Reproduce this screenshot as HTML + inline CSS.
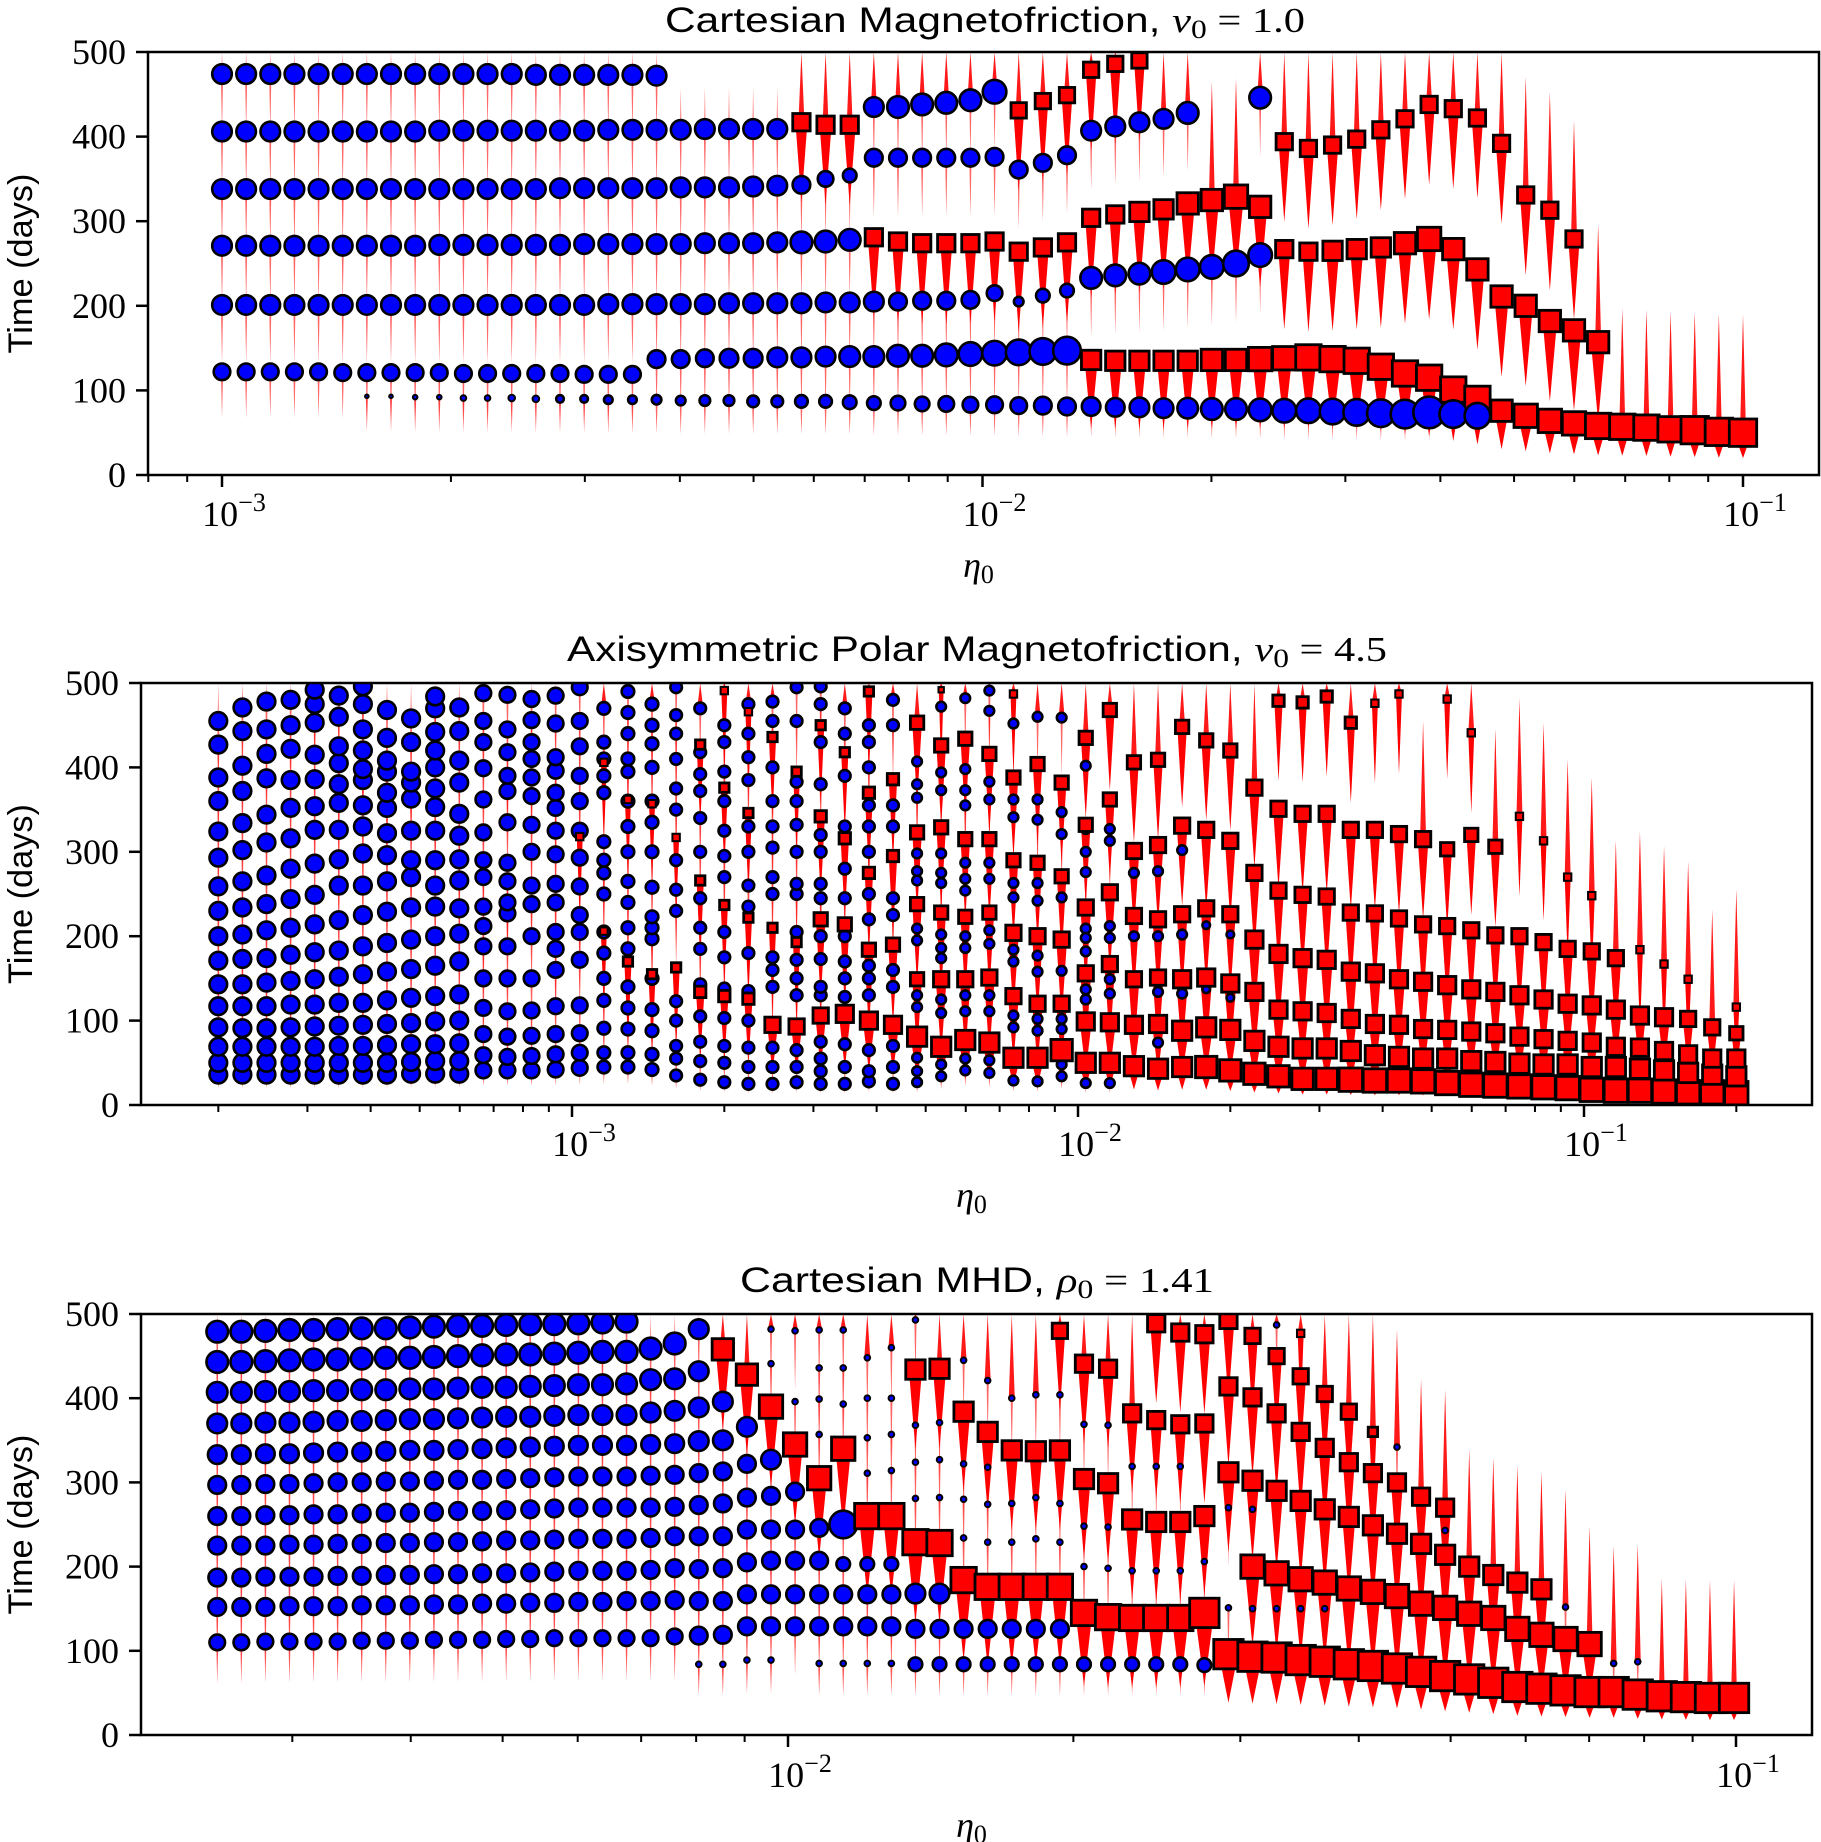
<!DOCTYPE html>
<html><head><meta charset="utf-8"><style>
html,body{margin:0;padding:0;background:#fff}
svg{display:block}
text{fill:#000}
</style></head><body>
<svg id="chart" width="1821" height="1842" viewBox="0 0 1821 1842" xmlns="http://www.w3.org/2000/svg">
</svg>
<script>
// ---------- DATA ----------
const p1Tracks = [
 {k:'b',c:0,t:[474,474,474,474,474,474,474,474,474,474,474,474,474,473,473,473,473,473,472],s:11},
 {k:'b',c:0,t:[406,406,406,406,406,406,406,406,406,407,407,407,407,407,407,407,408,408,408,408,409,409,409,409],s:11},
 {k:'r',c:24,t:[417,414,414],s:10},
 {k:'b',c:27,t:[435,435,438,440,443,453],s:[11,12,12,12,12,13]},
 {k:'r',c:33,t:[431,442,449,479,486,490],s:9},
 {k:'b',c:36,t:[407,412,417,421,428],s:[11,11,11,11,12]},
 {k:'b',c:43,t:[446],s:12},
 {k:'r',c:44,t:[394,386,390,397,408,421,438,433,422,392,331,313,279],s:9.5},
 {k:'b',c:0,t:[338,338,338,338,338,338,338,338,338,338,338,338,338,338,339,339,339,339,339,340,340,340,341,342,343,350,354],s:[11,11,11,11,11,11,11,11,11,11,11,11,11,11,11,11,11,11,11,11,11,11,11,11,10,9,8]},
 {k:'b',c:27,t:[375,375,375,375,375,376,361,369,378],s:10},
 {k:'b',c:0,t:[271,271,271,271,271,271,271,271,271,272,272,272,272,272,272,273,273,273,273,273,274,274,274,275,275,276,278],s:[11,11,11,11,11,11,11,11,11,11,11,11,11,11,11,11,11,11,11,11,11,11,11,11,12,12,12]},
 {k:'r',c:27,t:[281,276,274,274,274,276,264,269,275],s:10},
 {k:'r',c:36,t:[304,308,311,314,321,325,329,317],s:[10,10,11,11,12,12,13,12]},
 {k:'b',c:36,t:[233,236,238,240,243,246,250,260],s:[12,12,12,13,13,13,14,13]},
 {k:'r',c:44,t:[267,264,265,267,269,274,279,267,243,211,200,182,171,157],s:[10,10,11,11,11,12,13,12,12,12,12,12,12,12]},
 {k:'b',c:0,t:[201,201,201,201,201,201,201,201,201,201,201,201,201,201,201,201,202,202,202,202,202,203,203,203,203,204,204,205,205,206,206,207,215,205,212,218],s:[11,11,11,11,11,11,11,11,11,11,11,11,11,11,11,11,11,11,11,11,11,11,11,11,11,11,11,11,10,10,10,10,9,6,8,8]},
 {k:'b',c:0,t:[122,122,122,122,122,121,121,121,121,121,120,120,120,120,120,119,119,119],s:9.5},
 {k:'b',c:18,t:[137,137,138,138,138,139,139,140,140,140,141,141,142,143,144,145,146,147],s:[10,10,10,10.5,10.5,11,11,11,11.5,11.5,12,12,12.5,13,13.5,14,14.5,15]},
 {k:'r',c:36,t:[136,135,135,135,135,136,136,137,138,139,137,135,128,120,115,101,90],s:[11,11,11,11,11,12,12,13,13,14,14,14,14,14,14,14,14]},
 {k:'b',c:6,t:[93,93,92,92,91,91,91,90,90,90,89,89,89,88,88,88,87,87,87,87],s:[3,3,3.5,3.5,4,4,4.5,4.5,5,5,5.5,5.5,6,6,6.5,6.5,7,7,7.5,7.5]},
 {k:'b',c:26,t:[86,85,85,84,84,83,83,82,82,81,81,80,80,79,79,78,78,77,76,76,75,74,73,72,74,72,70],s:[8,8,8.5,8.5,9,9,9.5,9.5,10,10,10.5,10.5,11,11,11.5,12,12,12.5,13,13.5,14,14.5,15,15.5,17,15,14]},
 {k:'r',c:53,t:[76,70,64,61,58,57,56,54,53,51,50],s:[12,13,13,13,14,14,14,14,15,15,15]}
];

const p2Blue = [
 [36,50,69,92,117,143,171,200,230,259,293,324,360,388,427,455],
 [36,50,69,91,117,143,173,202,234,265,302,334,372,402,443,471],
 [36,50,69,91,117,145,174,207,238,272,311,344,387,416,445,478],
 [36,50,69,92,119,147,178,210,244,280,316,352,385,422,450,480],
 [36,50,69,93,119,149,181,214,249,286,326,354,386,415,453,475,492],
 [36,50,70,94,121,152,183,219,260,291,326,358,380,405,425,460,485],
 [36,50,70,95,121,155,188,225,260,298,330,355,385,398,420,445,475,496],
 [36,50,71,96,124,158,192,229,265,296,322,352,370,395,408,435,468],
 [37,51,72,97,127,161,196,234,270,290,325,363,382,395,430,458],
 [37,52,72,99,129,165,200,235,260,290,325,353,375,400,420,442,470,484],
 [37,52,73,100,131,170,203,233,266,291,319,345,382,408,443,471],
 [41,59,84,115,150,188,212,235,270,290,323,362,399,430,455,488],
 [41,57,81,111,150,188,227,240,265,287,335,372,390,418,445,486],
 [41,58,82,112,150,200,238,260,300,332,366,388,410,430,456,481],
 [42,60,84,117,160,185,205,240,262,297,325,352,370,396,412,452,485],
 [44,62,85,118,172,205,225,259,293,325,360,390,425,455,495],
 [45,62,91,124,150,180,205,250,275,290,312,370,390,410,430,470],
 [45,62,90,115,140,185,210,240,265,300,330,360,395,410,440,465,490],
 [42,60,88,113,150,197,210,223,258,300,335,360,400,428,450,475],
 [35,55,70,100,123,230,255,290,350,375,410,440,462,495],
 [30,52,75,105,143,185,210,245,300,340,372,392,418,470],
 [27,50,70,103,138,175,205,270,295,325,360,395,430,450],
 [25,45,68,100,135,180,235,260,300,330,385,412,440,475],
 [25,45,68,140,160,175,250,270,305,330,360,400,455,478],
 [27,45,65,130,150,172,205,250,262,300,332,360,383,455,495],
 [25,40,55,75,130,140,173,200,245,262,300,320,380,430,475,496],
 [25,45,72,128,150,170,200,245,280,330,390,440,470],
 [28,40,65,130,150,165,220,250,300,330,355,400,430,450],
 [25,45,70,140,160,225,245,330,355,450,480],
 [56,40,27,130,116,298,277,266,209,195,407,380,364],
 [48,34,125,109,202,186,174,298,275,263,394,373,472],
 [55,41,130,111,200,186,287,268,254,398,373,355,482],
 [53,38,130,111,207,191,287,268,383,362,491,467],
 [29,106,92,184,170,263,246,362,341,452],
 [28,102,88,177,158,263,242,362,338,460],
 [48,34,102,90,159,246,347,321,459],
 [26,137,125,209,198,182,276,300,327,402],
 [26,149,132,198,212,327,313],
 [200,275],
 [74,134,200,277],
 [132,202,302],
 [137,213],
 [202,127]
];
const p2BlueR = [10,10,10,10,10,10,10,10,10,10,10,9,9,9,9,9,7.5,7.5,7.5,7,7,7,7,7,7,7,7,7,7,6,6,6,6,6,6,6,6,6,6,6,6,5,5];
const p2Red = [
 [],[],[],[],[],[],[],[],[],[],[],[],[],[],[],
 [[318,5]],[[206,5],[406,5]],[[170,6],[362,5]],[[155,6],[357,5]],[[163,6],[317,5]],
 [[134,7],[266,6],[427,6]],[[129,7],[237,6],[376,6],[491,5]],[[126,7],[222,6],[346,6],[466,5]],
 [[95,9],[210,6],[436,6]],[[93,9],[193,6],[395,6]],[[106,9],[220,8],[342,7],[450,6]],
 [[108,10],[214,8],[316,7],[418,6]],[[100,10],[184,8],[275,7],[370,7],[490,6]],[[95,10],[190,8],[295,7],[386,7]],
 [[81,11],[149,8],[238,8],[323,8],[453,8]],
 [[69,11],[149,9],[228,8],[329,8],[426,8],[492,4]],
 [[77,11],[149,9],[223,8],[315,8],[434,8]],
 [[74,11],[151,9],[228,8],[315,8],[416,8]],
 [[56,11],[129,9],[204,9],[290,8],[388,8],[487,5]],
 [[56,11],[120,9],[200,9],[287,8],[404,8]],
 [[65,12],[120,9],[196,9],[271,8],[382,8]],
 [[50,11],[99,10],[156,9],[234,9],[332,8],[435,8]],
 [[50,11],[98,10],[167,9],[252,9],[362,8],[468,8]],
 [[46,11],[95,10],[149,9],[224,9],[301,9],[406,8]],
 [[43,11],[96,10],[151,9],[220,9],[308,9],[409,8]],
 [[45,11],[88,11],[149,10],[226,9],[331,9],[448,8]],
 [[45,12],[92,11],[151,10],[233,9],[326,9],[432,8]],
 [[41,12],[89,11],[144,10],[226,9],[313,9],[420,8]],
 [[37,12],[76,11],[134,10],[196,10],[275,9],[376,9]],
 [[34,12],[69,11],[113,10],[179,10],[254,9],[351,9],[479,7]],
 [[31,12],[67,11],[111,10],[174,10],[249,9],[345,9],[477,7]],
 [[31,12],[67,11],[109,10],[172,10],[247,9],[345,9],[484,7]],
 [[30,13],[64,11],[102,10],[158,10],[228,9],[326,9],[453,7]],
 [[29,13],[59,11],[96,10],[156,10],[227,9],[326,9],[476,5]],
 [[29,13],[57,11],[95,10],[149,10],[221,9],[321,9],[487,5]],
 [[28,13],[55,11],[90,10],[146,10],[214,9],[315,9]],
 [[26,13],[55,11],[89,10],[142,10],[212,9],[303,8],[481,5]],
 [[24,13],[52,11],[87,10],[137,10],[207,9],[320,8],[441,5]],
 [[23,13],[51,11],[85,10],[134,10],[201,9],[306,8]],
 [[22,13],[49,11],[81,10],[130,10],[200,9],[342,5]],
 [[21,13],[48,11],[78,10],[125,10],[193,9],[313,5]],
 [[20,13],[48,11],[76,10],[120,10],[185,9],[270,5]],
 [[18,13],[45,11],[74,10],[118,10],[182,9],[248,5]],
 [[17,13],[45,11],[69,10],[113,10],[174,9]],
 [[17,13],[43,11],[68,10],[106,10],[184,5]],
 [[16,13],[41,11],[64,10],[104,10],[167,5]],
 [[15,13],[38,11],[60,10],[102,9],[149,5]],
 [[15,13],[36,11],[55,10],[92,9]],
 [[14,13],[34,11],[55,10],[85,8],[116,5]]
];

const p3Tracks = [
 {k:'b',c:0,t:[110,110,111,111,111,111,112,112,112,113,113,113,114,114,115,115,115,115,115,117],s:9},
 {k:'b',c:0,t:[152,152,152,153,153,153,154,154,154,155,155,156,156,157,157,158,158,159,159,160],s:10},
 {k:'b',c:0,t:[187,187,188,188,188,189,189,190,190,191,191,192,192,193,194,195,195,195,196,198],s:10},
 {k:'b',c:0,t:[225,225,225,226,226,227,227,228,228,229,229,230,231,231,232,233,233,233,234,236],s:10},
 {k:'b',c:0,t:[260,260,261,261,262,262,263,264,264,265,266,266,267,268,269,270,270,270,270,271],s:10},
 {k:'b',c:0,t:[297,297,298,298,299,300,300,301,301,302,303,303,304,305,306,307,307,307,308,309],s:10},
 {k:'b',c:0,t:[333,333,334,334,335,336,336,337,338,338,339,340,341,342,343,344,344,344,345,346],s:10.5},
 {k:'b',c:0,t:[370,370,371,371,372,373,373,374,375,375,376,377,378,378,379,380,380,380,383,385],s:11},
 {k:'b',c:0,t:[407,407,408,408,409,409,410,410,411,411,412,413,413,414,415,416,416,417,422,423],s:11.5},
 {k:'b',c:0,t:[443,443,444,445,446,446,447,448,448,449,450,451,452,452,453,454,455,455,459,465],s:12},
 {k:'b',c:0,t:[479,479,480,481,481,482,483,483,484,485,486,486,487,488,488,489,490,491],s:12}
];
const p3BlueCols = {
 20:[[118,10],[159,10],[197,10],[236,10],[273,10],[311,10],[349,11],[389,11],[432,11],[482,11],[84,4]],
 21:[[119,10],[159,10],[198,10],[236,10],[275,10],[313,10],[350,11],[396,11],[84,4]],
 22:[[129,10],[167,10],[205,10],[244,10],[282,10],[322,10],[366,11],[89,4]],
 23:[[129,10],[167,10],[207,10],[244,10],[284,10],[327,11],[89,4],[441,4],[482,4]],
 24:[[129,10],[167,10],[207,10],[244,10],[289,10],[396,4],[480,4]],
 25:[[129,10],[167,10],[207,10],[246,10],[85,4],[357,4],[399,4],[436,4],[481,4]],
 26:[[129,10],[167,10],[203,8],[250,15],[85,4],[393,4],[436,4],[481,4]],
 27:[[129,10],[167,10],[203,8],[85,4],[311,4],[353,4],[400,4],[448,4]],
 28:[[129,10],[167,10],[203,8],[85,4],[314,4],[357,4],[400,4],[460,4]],
 29:[[168,11],[126,10],[84,8],[324,4],[281,4],[368,4],[493,4]],
 30:[[168,11],[126,10],[84,8],[327,4],[282,4],[371,4]],
 31:[[126,10],[84,8],[234,4],[280,4],[322,4],[445,4]],
 32:[[126,10],[84,8],[229,4],[274,4],[318,4],[421,4]],
 33:[[126,10],[84,8],[229,4],[275,4],[400,4]],
 34:[[126,10],[84,8],[233,4],[282,4],[404,4]],
 35:[[126,10],[84,8],[229,4],[275,4],[404,4]],
 36:[[84,8],[200,4],[248,4],[369,4]],
 37:[[84,8],[198,4],[247,4],[368,4]],
 38:[[84,8],[195,4],[319,4]],
 39:[[84,8],[195,4],[319,4]],
 40:[[84,8],[195,4],[319,4]],
 41:[[83,8],[206,4]],
 42:[[151,4],[270,4]],
 43:[[150,4],[268,4]],
 44:[[150,4],[487,4]],
 45:[[150,4]],46:[[150,4]],49:[[342,4]],51:[[243,4]],56:[[152,4]],58:[[85,4]],59:[[87,4]]
};
const p3RedCols = {
 21:[[458,12]],22:[[428,12]],23:[[390,13]],24:[[345,13]],25:[[305,13]],26:[[340,13]],27:[[260,14]],28:[[260,14]],
 29:[[434,11],[229,14]],30:[[435,11],[228,14]],31:[[384,11],[184,14]],32:[[360,11],[176,14]],
 33:[[338,11],[176,14]],34:[[337,11],[176,14]],35:[[480,9],[338,11],[176,14]],
 36:[[441,10],[304,11],[145,14]],37:[[435,10],[299,11],[140,14]],38:[[382,10],[256,11],[139,14]],
 39:[[489,10],[374,10],[253,11],[139,14]],40:[[478,10],[369,10],[253,11],[139,14]],
 41:[[476,10],[370,10],[260,11],[145,16]],42:[[493,10],[414,10],[312,11],[96,16]],
 43:[[474,9],[401,10],[302,11],[200,13],[93,16]],44:[[450,9],[382,10],[290,11],[192,13],[92,16]],
 45:[[477,5],[426,9],[360,10],[278,11],[185,13],[89,16]],46:[[405,9],[341,10],[268,11],[181,13],[87,16]],
 47:[[384,9],[324,10],[259,11],[174,13],[84,16]],48:[[360,6],[311,10],[249,11],[170,13],[82,16]],
 49:[[300,10],[239,11],[165,13],[79,16]],50:[[283,10],[227,11],[156,13],[75,16]],
 51:[[270,10],[214,11],[151,13],[70,16]],52:[[200,11],[144,13],[66,16]],53:[[190,11],[139,13],[62,16]],
 54:[[181,11],[126,13],[57,16]],55:[[173,11],[119,13],[55,16]],56:[[114,13],[53,16]],57:[[108,13],[51,16]],
 58:[[51,16]],59:[[48,16]],60:[[46,16]],61:[[45,16]],62:[[44,16]],63:[[44,16]]
};
const yTickLabels = ['0','100','200','300','400','500'];
const xMajorExps = [-3,-2,-1];

// ---------- RENDER ----------
const NS='http://www.w3.org/2000/svg';
const svg=document.getElementById('chart');
function mk(tag,attrs,parent){const e=document.createElementNS(NS,tag);for(const k in attrs)e.setAttribute(k,attrs[k]);(parent||svg).appendChild(e);return e;}

const panels=[
 {id:1,L:148,R:1819,T:52,B:475,refLog:-3,refPx:222,dec:760.5,log0:-3,step:2/63,
  title:'Cartesian Magnetofriction, ',sym:'ν',val:' = 1.0',titleY:32,titleX:985,titleW:640,tickY:526,labY:577},
 {id:2,L:141,R:1812,T:683,B:1105,refLog:-3,refPx:572,dec:506,log0:Math.log10(2e-4),step:3/63,
  title:'Axisymmetric Polar Magnetofriction, ',sym:'ν',val:' = 4.5',titleY:661,titleX:977,titleW:820,tickY:1156,labY:1207},
 {id:3,L:141,R:1812,T:1314,B:1735,refLog:-2,refPx:788,dec:948,log0:Math.log10(2.5e-3),step:1.6/63,
  title:'Cartesian MHD, ',sym:'ρ',val:' = 1.41',titleY:1292,titleX:977,titleW:474,tickY:1787,labY:1837}
];

function collect(p){
 const marks=[];
 const addTracks=(tr)=>tr.forEach(T=>T.t.forEach((t,j)=>marks.push({i:T.c+j,t:t,s:Array.isArray(T.s)?T.s[j]:T.s,k:T.k})));
 if(p.id===1) addTracks(p1Tracks);
 if(p.id===2){
  p2Blue.forEach((col,i)=>col.forEach(t=>marks.push({i:i,t:t,s:p2BlueR[i],k:'b'})));
  p2Red.forEach((col,i)=>col.forEach(m=>marks.push({i:i,t:m[0],s:m[1],k:'r'})));
 }
 if(p.id===3){
  addTracks(p3Tracks);
  for(const i in p3BlueCols) p3BlueCols[i].forEach(m=>marks.push({i:+i,t:m[0],s:m[1],k:'b'}));
  for(const i in p3RedCols) p3RedCols[i].forEach(m=>marks.push({i:+i,t:m[0],s:m[1],k:'r'}));
 }
 return marks;
}

panels.forEach(p=>{
 const g=mk('g',{});
 
 
 const xOfLog=l=>p.refPx+(l-p.refLog)*p.dec;
 const xOfCol=i=>xOfLog(p.log0+i*p.step);
 const yOf=t=>p.B-t*(p.B-p.T)/500;
 const clipId='clip'+p.id;
 const cp=mk('clipPath',{id:clipId},g);
 mk('rect',{x:p.L,y:p.T,width:p.R-p.L,height:p.B-p.T},cp);
 const plot=mk('g',{'clip-path':'url(#'+clipId+')'},g);
 
 
 const marks=collect(p);
 const cols={};
 marks.forEach(m=>{(cols[m.i]=cols[m.i]||[]).push(m);});
 const spikes=mk('g',{},plot);
 
 
 for(const i in cols){
  const c=cols[i];const top=c.reduce((a,b)=>b.t>a.t?b:a);
  const hasRed=c.some(m=>m.k==='r');
  const x=xOfCol(+i);
  const w=hasRed?3:0.8;
  const up=Math.min(500,top.t+(hasRed?140:50));
  const sp=mk('polygon',{points:(x-w)+','+yOf(top.t)+' '+(x+w)+','+yOf(top.t)+' '+x+','+yOf(up),fill:'#ff0000',opacity:hasRed?0.9:0.5},spikes);
  
  
 }
 marks.forEach(m=>{
  const x=xOfCol(m.i),y=yOf(m.t);
  const L=Math.min(m.t*(m.k==='r'?0.6:0.45),m.k==='r'?95:70)*(p.B-p.T)/500;
  const w=m.k==='r'?m.s*0.6:1.1;
  const wd=mk('polygon',{points:(x-w)+','+y+' '+(x+w)+','+y+' '+x+','+(y+L),fill:'#ff0000',opacity:m.k==='r'?1:0.6},spikes);
  
  
 });
 const mg=mk('g',{},plot);
 
 
 marks.forEach(m=>{
  const x=xOfCol(m.i),y=yOf(m.t);
  let e;
  if(m.k==='b'){
   e=mk('circle',{cx:x,cy:y,r:Math.max(1,m.s-1.2),fill:'#0000ff',stroke:'#000','stroke-width':m.s<5?2:2.6},mg);
   
  }else{
   const h=m.s-1.3;
   e=mk('rect',{x:x-h,y:y-h,width:2*h,height:2*h,fill:'#ff0000',stroke:'#000','stroke-width':m.s<6?2:2.8},mg);
   
  }
  
 });
 const fr=mk('rect',{x:p.L,y:p.T,width:p.R-p.L,height:p.B-p.T,fill:'none',stroke:'#000','stroke-width':2.5},g);
 
 
 yTickLabels.forEach(lbl=>{
  const y=yOf(+lbl);
  const tk=mk('line',{x1:p.L-12,x2:p.L,y1:y,y2:y,stroke:'#000','stroke-width':2.5},g);
  
  
  const tx=mk('text',{x:p.L-22,y:y+12,'text-anchor':'end','font-family':'Liberation Serif, serif','font-size':36},g);
  tx.textContent=lbl;
  
  
 });
 for(let e=-5;e<=0;e++){
  for(let k=1;k<10;k++){
   const x=xOfLog(e+Math.log10(k));
   if(x<p.L-0.5||x>p.R+0.5)continue;
   const major=k===1;
   const tk=mk('line',{x1:x,x2:x,y1:p.B,y2:p.B+(major?12:7),stroke:'#000','stroke-width':major?2.5:2},g);
   
   
  }
 }
 xMajorExps.forEach(e=>{
  const x=xOfLog(e);
  if(x<p.L||x>p.R)return;
  const tx=mk('text',{x:x+12,y:p.tickY,'text-anchor':'middle','font-family':'Liberation Serif, serif','font-size':36},g);
  
  
  const a=mk('tspan',{},tx);a.textContent='10';
  const b=mk('tspan',{dy:-15,'font-size':26},tx);b.textContent='−'+(-e);
 });
 const tt=mk('text',{x:p.titleX,y:p.titleY,'text-anchor':'middle','font-family':'Liberation Sans, sans-serif','font-size':35,textLength:p.titleW,lengthAdjust:'spacingAndGlyphs'},g);
 
 
 const s1=mk('tspan',{},tt);s1.textContent=p.title;
 const s2=mk('tspan',{'font-family':'Liberation Serif, serif','font-style':'italic'},tt);s2.textContent=p.sym;
 const s3=mk('tspan',{'font-family':'Liberation Serif, serif','font-size':26,dy:6},tt);s3.textContent='0';
 const s4=mk('tspan',{'font-family':'Liberation Serif, serif',dy:-6},tt);s4.textContent=p.val;
 const xl=mk('text',{x:(p.L+p.R)/2-5,y:p.labY,'text-anchor':'middle','font-family':'Liberation Serif, serif','font-size':36,'font-style':'italic'},g);
 
 
 const xa=mk('tspan',{},xl);xa.textContent='η';
 const xb=mk('tspan',{'font-size':26,dy:6,'font-style':'normal'},xl);xb.textContent='0';
 const cy=(p.T+p.B)/2;
 const yl=mk('text',{x:0,y:0,transform:'translate(32,'+cy+') rotate(-90)','text-anchor':'middle','font-family':'Liberation Sans, sans-serif','font-size':34,textLength:180,lengthAdjust:'spacingAndGlyphs'},g);
 yl.textContent='Time (days)';
 
 
});
</script>
</body></html>
